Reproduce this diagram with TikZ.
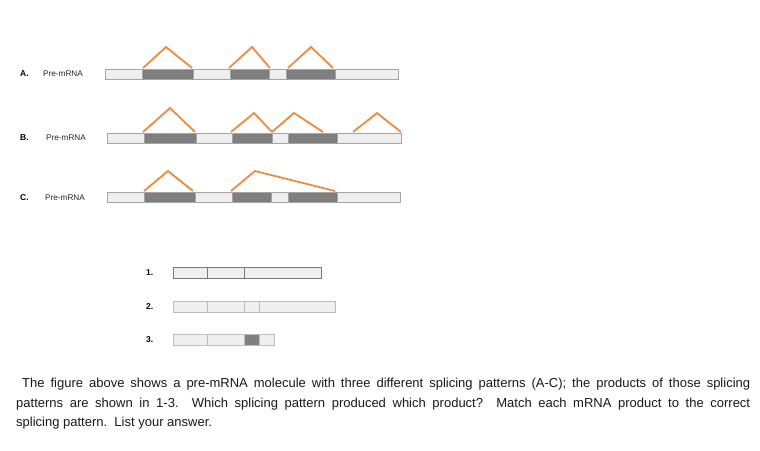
\documentclass[tikz,border=0pt]{standalone}
\usepackage{fontspec}
\setmainfont{Liberation Sans}
\begin{document}
\begin{tikzpicture}[x=1pt,y=-1pt,
  barbox/.style={fill=barfill,draw=barline,line width=0.8pt},
  exonbox/.style={fill=exonfill,draw=barline,line width=0.8pt},
  splice/.style={draw=splorange,line width=1.8pt,line join=miter},
  rowlab/.style={font=\fontsize{8.5}{10}\selectfont\bfseries,anchor=west,inner sep=0pt},
  premlab/.style={font=\fontsize{8.2}{10}\selectfont,anchor=west,inner sep=0pt,text=black!85},
  numlab/.style={font=\fontsize{8.5}{10}\selectfont\bfseries,anchor=west,inner sep=0pt},
  para/.style={font=\fontsize{13}{15}\selectfont,anchor=base west,inner sep=0pt,text=black!90}]
\definecolor{barfill}{HTML}{EFEFEF}
\definecolor{barline}{HTML}{A6A6A6}
\definecolor{exonfill}{HTML}{7F7F7F}
\definecolor{splorange}{HTML}{F08A3C}
\definecolor{darkline}{HTML}{7A7A7A}
\definecolor{lightline}{HTML}{BDBDBD}
\useasboundingbox (0,0) rectangle (760,450);
\fill[white] (0,0) rectangle (760,450);

% ---- A ----
\node[rowlab] (labA) at (20,73.5) {A.};
\node[premlab] (preA) at (43,73.5) {Pre-mRNA};
\draw[barbox] (105,69) rectangle (398,79);
\draw[exonbox] (142,69) rectangle (193,79);
\draw[exonbox] (230,69) rectangle (269,79);
\draw[exonbox] (286,69) rectangle (335,79);
\draw[splice] (143,68) -- (166,47) -- (192,68);
\draw[splice] (229,68) -- (252,47) -- (270,68);
\draw[splice] (288,68) -- (311,47) -- (333,68);

% ---- B ----
\node[rowlab] (labB) at (20,138) {B.};
\node[premlab] (preB) at (46,138) {Pre-mRNA};
\draw[barbox] (107,133) rectangle (401,143);
\draw[exonbox] (144,133) rectangle (196,143);
\draw[exonbox] (232,133) rectangle (272,143);
\draw[exonbox] (288,133) rectangle (337,143);
\draw[splice] (143,132) -- (170,108) -- (195,132);
\draw[splice] (231,132) -- (254,113) -- (272,132);
\draw[splice] (272,132) -- (294,113) -- (323,132);
\draw[splice] (353,132) -- (377,113) -- (401,132);

% ---- C ----
\node[rowlab] (labC) at (20,197.5) {C.};
\node[premlab] (preC) at (45,197.5) {Pre-mRNA};
\draw[barbox] (107,192) rectangle (400,202);
\draw[exonbox] (144,192) rectangle (195,202);
\draw[exonbox] (232,192) rectangle (271,202);
\draw[exonbox] (288,192) rectangle (337,202);
\draw[splice] (144,191) -- (168,171) -- (193,191);
\draw[splice] (231,191) -- (255,171) -- (335,191);

% ---- products ----
\node[numlab] (n1) at (146,272.5) {1.};
\draw[fill=barfill,draw=darkline,line width=0.9pt] (173,267) rectangle (321,278);
\draw[draw=darkline,line width=0.9pt] (207,267) -- (207,278) (244,267) -- (244,278);

\node[numlab] (n2) at (146,306.5) {2.};
\draw[fill=barfill,draw=lightline,line width=0.9pt] (173,301) rectangle (335,312);
\draw[draw=lightline,line width=0.9pt] (207,301) -- (207,312) (244,301) -- (244,312) (259,301) -- (259,312);

\node[numlab] (n3) at (146,339.5) {3.};
\draw[fill=barfill,draw=lightline,line width=0.9pt] (173,334) rectangle (274,345);
\draw[draw=lightline,line width=0.9pt] (207,334) -- (207,345);
\draw[fill=exonfill,draw=lightline,line width=0.9pt] (244,334) rectangle (259,345);

% ---- paragraph ----
\node[para] (t1) at (22,387) {\makebox[728pt][s]{The figure above shows a pre-mRNA molecule with three different splicing patterns (A-C); the products of those splicing}};
\node[para] (t2) at (16,407) {\makebox[734pt][s]{patterns are shown in 1-3.\ \ Which splicing pattern produced which product?\ \ Match each mRNA product to the correct}};
\node[para] (t3) at (16,426.5) {splicing pattern.\ \ List your answer.};
\end{tikzpicture}
\end{document}
